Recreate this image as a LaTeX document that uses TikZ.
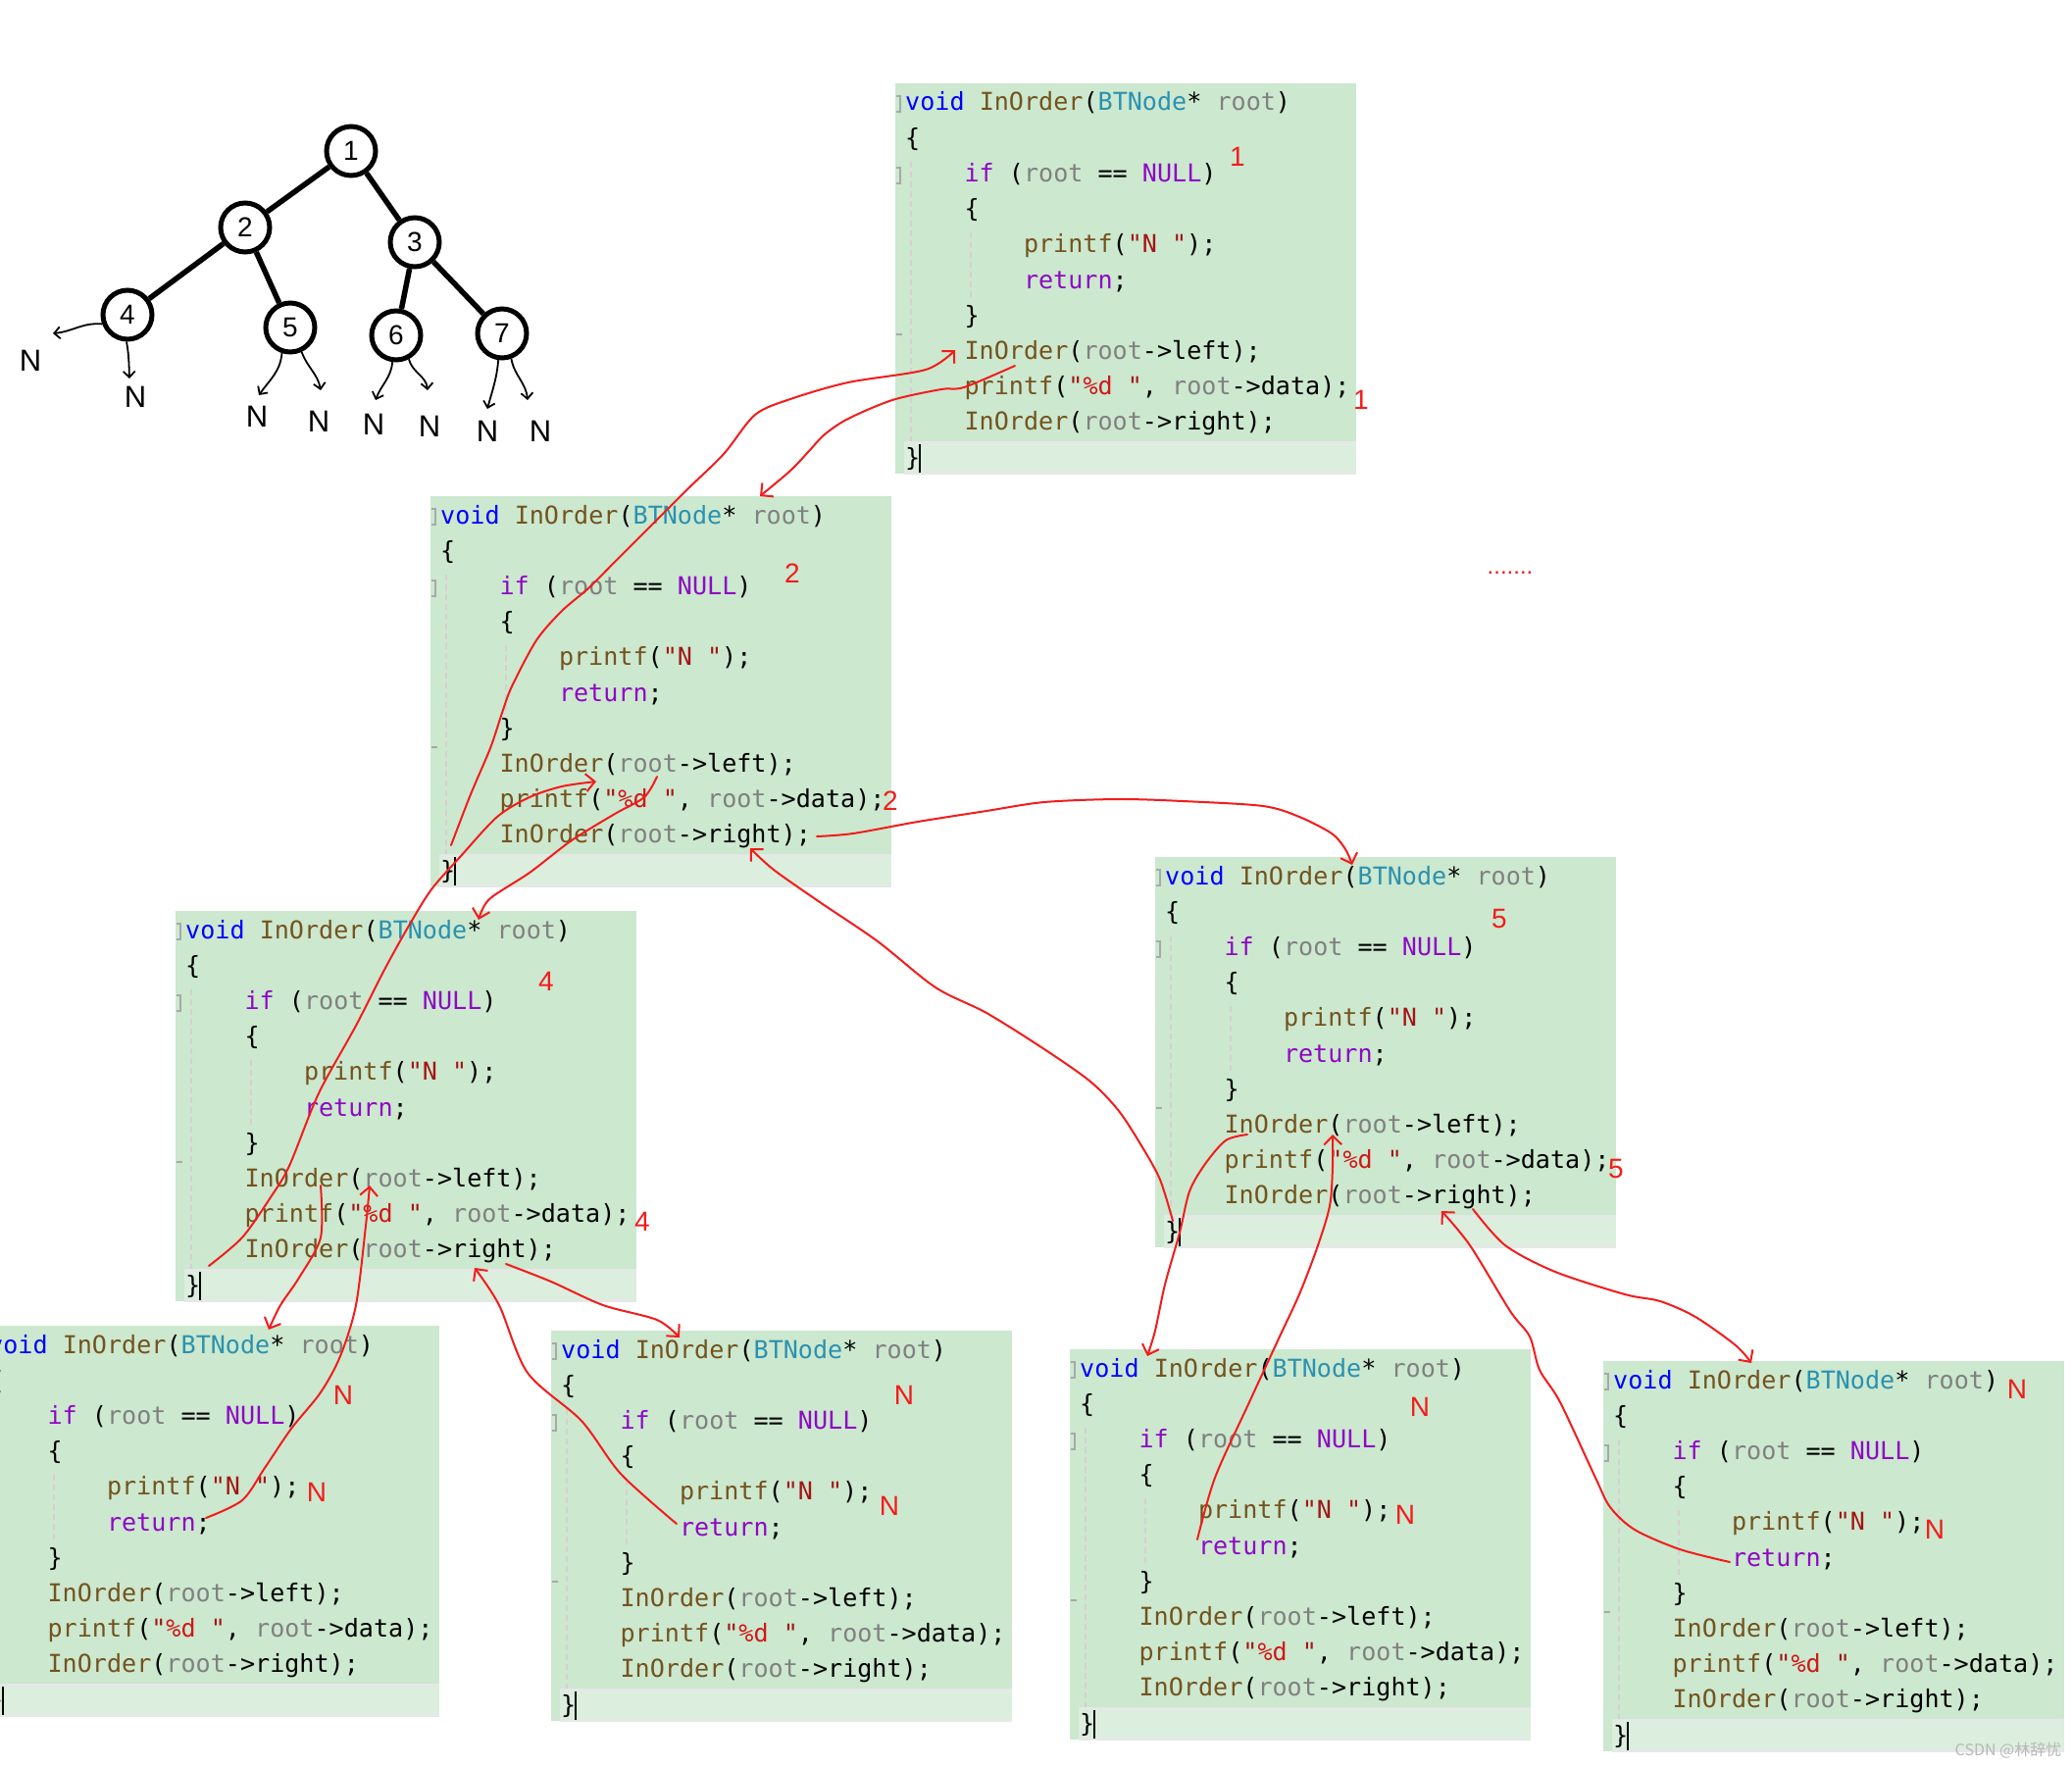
\documentclass[tikz,border=0pt]{standalone}
\usepackage{fontspec}
\usetikzlibrary{arrows.meta}
\newfontfamily\codefam{DejaVu Sans Mono}
\newfontfamily\sansfam{Liberation Sans}
\newfontfamily\cjkfam{Noto Sans CJK SC}
\definecolor{boxbg}{HTML}{CCE8CF}
\definecolor{bandbg}{HTML}{DCEEDD}
\definecolor{bandln}{HTML}{E4E8E6}
\definecolor{guidec}{HTML}{D6CFCF}
\definecolor{foldc}{HTML}{A8A8A8}
\definecolor{cvoid}{HTML}{0000FF}
\definecolor{cfn}{HTML}{74531F}
\definecolor{cty}{HTML}{2B91AF}
\definecolor{cpar}{HTML}{808080}
\definecolor{ckw}{HTML}{8F08C4}
\definecolor{cstr}{HTML}{A31515}
\definecolor{cfmt}{HTML}{D01818}
\definecolor{annot}{HTML}{F21C1C}
\definecolor{wmark}{HTML}{B8B8B8}
\tikzset{
  code/.style={anchor=base west, inner sep=0pt, font=\codefam\fontsize{25.1}{30}\selectfont},
  guide/.style={draw=guidec, line width=1.5pt, dash pattern=on 6pt off 4pt},
  fold/.style={draw=foldc, line width=1.2pt},
  caret/.style={draw=black, line width=2pt},
  redline/.style={draw=annot, line width=2pt, line cap=round, line join=round},
  redarr/.style={redline, -{Straight Barb[length=9pt,width=18pt]}},
  redlbl/.style={text=annot, inner sep=0pt, font=\sansfam\fontsize{28}{30}\selectfont},
  tnode/.style={circle, draw=black, line width=5pt, fill=white, minimum size=50pt, inner sep=0pt, font=\sansfam\fontsize{28}{30}\selectfont},
  tedge/.style={draw=black, line width=5.5pt},
  tN/.style={inner sep=0pt, font=\sansfam\fontsize{31}{33}\selectfont},
  tarr/.style={draw=black, line width=1.8pt, -{Straight Barb[length=6pt,width=12pt]}},
}
\newcommand\codebox[3]{%
  \fill[boxbg] (#2,#3) rectangle ({#2+470},{#3+398});
  \fill[bandbg] ({#2+9},{#3+366}) rectangle ({#2+470},{#3+396});
  \draw[bandln, line width=3pt] ({#2+9},{#3+366}) -- ({#2+470},{#3+366});
  \draw[bandln, line width=3pt] ({#2+9},{#3+397}) -- ({#2+470},{#3+397});
  \draw[guide] ({#2+16},{#3+80}) -- ({#2+16},{#3+365});
  \draw[guide] ({#2+77},{#3+152}) -- ({#2+77},{#3+218});
  \draw[fold] ({#2+1},{#3+13}) -- ({#2+5},{#3+13}) -- ({#2+5},{#3+29}) -- ({#2+1},{#3+29});
  \draw[fold] ({#2+1},{#3+86}) -- ({#2+5},{#3+86}) -- ({#2+5},{#3+102}) -- ({#2+1},{#3+102});
  \draw[fold] ({#2+1},{#3+256}) -- ({#2+7},{#3+256});
  \node[code] (#1-0) at ({#2+10},{#3+28}) {\textcolor{cvoid}{void} \textcolor{cfn}{InOrder}(\textcolor{cty}{BTNode}* \textcolor{cpar}{root})};
  \node[code] (#1-1) at ({#2+10},{#3+64.2}) {\{};
  \node[code] (#1-2) at ({#2+70.4},{#3+100.4}) {\textcolor{ckw}{if} (\textcolor{cpar}{root} == \textcolor{ckw}{NULL})};
  \node[code] (#1-3) at ({#2+70.4},{#3+136.6}) {\{};
  \node[code] (#1-4) at ({#2+130.8},{#3+172.8}) {\textcolor{cfn}{printf}(\textcolor{cstr}{"N\ "});};
  \node[code] (#1-5) at ({#2+130.8},{#3+209}) {\textcolor{ckw}{return};};
  \node[code] (#1-6) at ({#2+70.4},{#3+245.2}) {\}};
  \node[code] (#1-7) at ({#2+70.4},{#3+281.4}) {\textcolor{cfn}{InOrder}(\textcolor{cpar}{root}->left);};
  \node[code] (#1-8) at ({#2+70.4},{#3+317.6}) {\textcolor{cfn}{printf}(\textcolor{cstr}{"}\textcolor{cfmt}{\%d}\textcolor{cstr}{\ "},\ \textcolor{cpar}{root}->data);};
  \node[code] (#1-9) at ({#2+70.4},{#3+353.8}) {\textcolor{cfn}{InOrder}(\textcolor{cpar}{root}->right);};
  \node[code] (#1-10) at ({#2+10},{#3+390}) {\}};
  \draw[caret] ({#2+25},{#3+368}) -- ({#2+25},{#3+397});
}
\begin{document}
\begin{tikzpicture}[x=1pt,y=-1pt]
\useasboundingbox (0,0) rectangle (2113,1801);
\fill[white] (0,0) rectangle (2113,1801);
\clip (0,0) rectangle (2113,1801);

% ---------- tree ----------
\node[tnode] (n1) at (358,154) {1};
\node[tnode] (n2) at (250,232) {2};
\node[tnode] (n3) at (423,247) {3};
\node[tnode] (n4) at (130,321) {4};
\node[tnode] (n5) at (296,334) {5};
\node[tnode] (n6) at (404,342) {6};
\node[tnode] (n7) at (512,340) {7};
\draw[tedge] (n1) -- (n2);
\draw[tedge] (n1) -- (n3);
\draw[tedge] (n2) -- (n4);
\draw[tedge] (n2) -- (n5);
\draw[tedge] (n3) -- (n6);
\draw[tedge] (n3) -- (n7);
\node[tN] (tn1) at (31,368) {N};
\node[tN] (tn2) at (138,405) {N};
\node[tN] (tn3) at (262,425) {N};
\node[tN] (tn4) at (325,430) {N};
\node[tN] (tn5) at (381,433) {N};
\node[tN] (tn6) at (438,435) {N};
\node[tN] (tn7) at (497,440) {N};
\node[tN] (tn8) at (551,440) {N};
\coordinate (t1) at (54,340);
\coordinate (t2) at (132,386);
\coordinate (t3) at (264,403);
\coordinate (t4) at (327,398);
\coordinate (t5) at (383,408);
\coordinate (t6) at (436,398);
\coordinate (t7) at (497,417);
\coordinate (t8) at (538,408);
\draw[tarr] (n4.200) to[out=175,in=5] (t1);
\draw[tarr] (n4.268) to[out=-80,in=92] (t2);
\draw[tarr] (n5.252) to[out=-95,in=55] (t3);
\draw[tarr] (n5.295) to[out=-70,in=100] (t4);
\draw[tarr] (n6.262) to[out=-95,in=70] (t5);
\draw[tarr] (n6.298) to[out=-75,in=95] (t6);
\draw[tarr] (n7.262) to[out=-95,in=75] (t7);
\draw[tarr] (n7.290) to[out=-80,in=95] (t8);

% ---------- code boxes ----------
\codebox{b1}{913}{85}
\codebox{b2}{439}{506}
\codebox{b4}{179}{929}
\codebox{b5}{1178}{874}
\codebox{c1}{-22}{1352}
\codebox{c2}{562}{1357}
\codebox{c3}{1091}{1376}
\codebox{c4}{1635}{1388}

% ---------- red labels ----------
\node[redlbl] (l1a) at (1262,160) {1};
\node[redlbl] (l1b) at (1388,408) {1};
\node[redlbl] (l2a) at (808,585) {2};
\node[redlbl] (l2b) at (908,817) {2};
\node[redlbl] (l4a) at (557,1001) {4};
\node[redlbl] (l4b) at (655,1246) {4};
\node[redlbl] (l5a) at (1529,937) {5};
\node[redlbl] (l5b) at (1648,1192) {5};
\node[redlbl] (lc1a) at (350,1423) {N};
\node[redlbl] (lc1b) at (323,1522) {N};
\node[redlbl] (lc2a) at (922,1423) {N};
\node[redlbl] (lc2b) at (907,1536) {N};
\node[redlbl] (lc3a) at (1448,1435) {N};
\node[redlbl] (lc3b) at (1433,1545) {N};
\node[redlbl] (lc4a) at (2057,1417) {N};
\node[redlbl] (lc4b) at (1973,1560) {N};
\node[text=annot, inner sep=0pt, anchor=base, font=\sansfam\fontsize{24}{26}\selectfont] (dots) at (1540,585) {.......};
\node[text=wmark, inner sep=0pt, font=\cjkfam\fontsize{16}{18}\selectfont] (wm) at (2048,1785) {CSDN @林辞忧};

% ---------- red connectors ----------
\coordinate (a1s) at (1035,373);  \coordinate (a1e) at (775,506);
\coordinate (a2s) at (460,862);   \coordinate (a2e) at (974,357);
\coordinate (a3s) at (670,792);   \coordinate (a3e) at (488,938);
\coordinate (a4s) at (213,1291);  \coordinate (a4e) at (608,797);
\coordinate (a5s) at (833,853);   \coordinate (a5e) at (1379,882);
\coordinate (a6s) at (1196,1245); \coordinate (a6e) at (765,865);
\coordinate (a7s) at (1272,1157); \coordinate (a7e) at (1170,1383);
\coordinate (a8s) at (1221,1570); \coordinate (a8e) at (1359,1157);
\coordinate (a9s) at (1502,1233); \coordinate (a9e) at (1786,1390);
\coordinate (a10s) at (1764,1593); \coordinate (a10e) at (1470,1235);
\coordinate (a11s) at (327,1209); \coordinate (a11e) at (274,1356);
\coordinate (a12s) at (210,1548); \coordinate (a12e) at (377,1209);
\coordinate (a13s) at (516,1289); \coordinate (a13e) at (693,1364);
\coordinate (a14s) at (690,1554); \coordinate (a14e) at (484,1293);

\draw[redarr] plot[smooth, tension=0.5] coordinates {(a1s) (983,395) (960,397) (910,408) (865,427) (841,443) (825,460) (806,480) (a1e)};
\draw[redarr] plot[smooth, tension=0.5] coordinates {(a2s) (480,810) (500,763) (512,727) (522,700) (547,653) (573,623) (600,600) (627,573) (653,547) (700,500) (738,463) (770,423) (806,407) (865,390) (944,377) (a2e)};
\draw[redarr] plot[smooth, tension=0.5] coordinates {(a3s) (657,813) (627,830) (583,857) (540,890) (499,917) (a3e)};
\draw[redarr] plot[smooth, tension=0.5] coordinates {(a4s) (247,1262) (276,1221) (295,1189) (325,1115) (363,1046) (392,989) (417,944) (440,907) (470,873) (507,833) (540,813) (573,802) (a4e)};
\draw[redarr] plot[smooth, tension=0.5] coordinates {(a5s) (870,850) (936,838) (1006,827) (1065,818) (1140,815) (1206,817) (1288,822) (1325,833) (1358,850) (1372,866) (a5e)};
\draw[redarr] plot[smooth, tension=0.5] coordinates {(a6s) (1183,1203) (1165,1170) (1141,1133) (1112,1103) (1065,1070) (1006,1033) (954,1007) (895,960) (836,920) (789,887) (a6e)};
\draw[redarr] plot[smooth, tension=0.5] coordinates {(a7s) (1250,1163) (1229,1187) (1213,1215) (1203,1257) (1188,1310) (1178,1357) (a7e)};
\draw[redarr] plot[smooth, tension=0.5] coordinates {(a8s) (1239,1507) (1274,1430) (1305,1363) (1325,1320) (1343,1273) (1356,1230) (1359,1190) (a8e)};
\draw[redarr] plot[smooth, tension=0.5] coordinates {(a9s) (1535,1270) (1586,1297) (1657,1320) (1693,1327) (1729,1343) (1770,1372) (a9e)};
\draw[redarr] plot[smooth, tension=0.5] coordinates {(a10s) (1713,1580) (1667,1560) (1642,1537) (1627,1507) (1591,1430) (1570,1397) (1560,1363) (1540,1337) (1499,1270) (a10e)};
\draw[redarr] plot[smooth, tension=0.5] coordinates {(a11s) (327,1262) (305,1303) (286,1331) (a11e)};
\draw[redarr] plot[smooth, tension=0.5] coordinates {(a12s) (247,1530) (270,1497) (297,1457) (327,1420) (347,1383) (363,1331) (373,1250) (a12e)};
\draw[redarr] plot[smooth, tension=0.5] coordinates {(a13s) (562,1307) (615,1331) (670,1346) (a13e)};
\draw[redarr] plot[smooth, tension=0.5] coordinates {(a14s) (633,1503) (593,1449) (538,1400) (509,1331) (a14e)};
\end{tikzpicture}
\end{document}
